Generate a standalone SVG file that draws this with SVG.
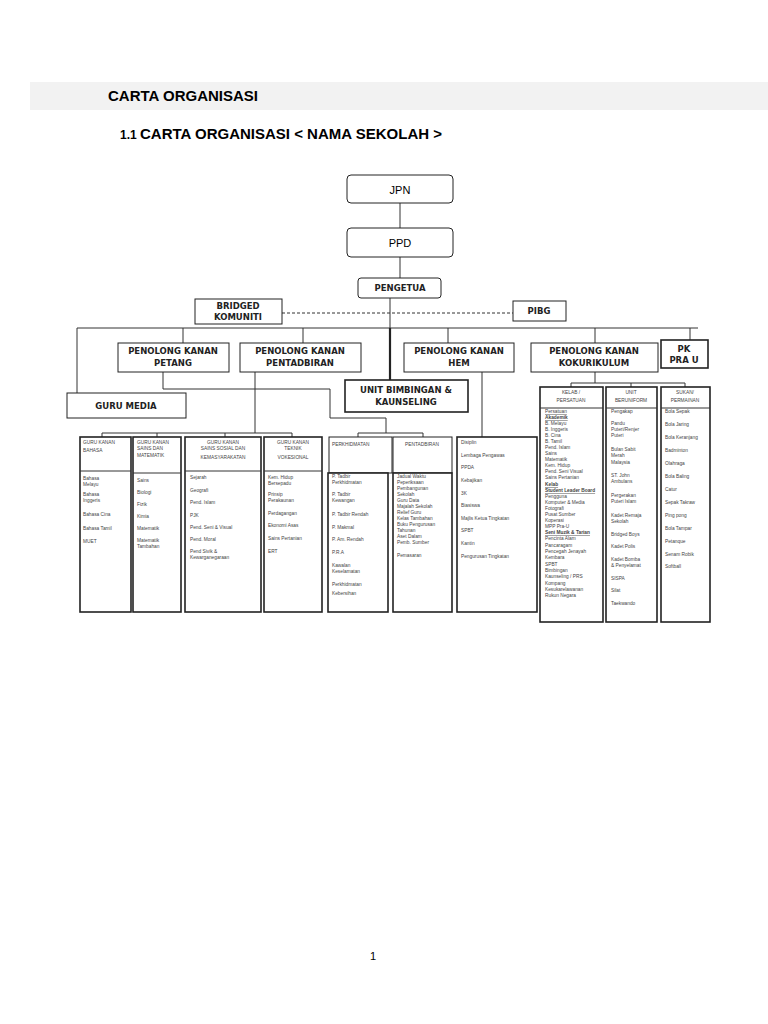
<svg xmlns="http://www.w3.org/2000/svg" width="768" height="1024" viewBox="0 0 768 1024">
<style>
.b{fill:#fff;stroke:#222;stroke-width:1}
.bt{fill:#fff;stroke:#222;stroke-width:1.6}
.l{fill:none;stroke:#333;stroke-width:1}
.h{font-family:"DejaVu Sans",sans-serif;font-size:8.5px;font-weight:bold;fill:#222;text-anchor:middle}
.s{font-family:"Liberation Sans",sans-serif;font-size:4.8px;fill:#444}
.sc{font-family:"Liberation Sans",sans-serif;font-size:4.8px;fill:#444;text-anchor:middle}
.u{text-decoration:underline;font-weight:bold}
</style>
<rect x="30" y="82" width="738" height="28" fill="#f2f2f2"/>
<text x="108" y="101" font-family="Liberation Sans,sans-serif" font-size="15" font-weight="bold">CARTA ORGANISASI</text>
<text x="120" y="139" font-family="Liberation Sans,sans-serif" font-size="15" font-weight="bold"><tspan font-size="12">1.1 </tspan> CARTA ORGANISASI &lt; NAMA SEKOLAH &gt;</text>
<g id="connectors">
<path class="l" d="M400 203V228M400 257V278M390 298V328M77 328H698M77 328V393M183 328V343M303 328V343M448 328V343M595 328V343M690 328V340"/>
<path d="M390 328V380" stroke="#222" stroke-width="2.2"/>
<path class="l" d="M282 313H513" stroke-dasharray="3,2"/>
<path class="l" d="M163 372V389H330V418H386V433M358 437V433H423V437M255 372V433M102 437V433H292V437M157 433V437M225 433V437M482 372V437M595 372V383M571 387V383H685V387M631 383V387"/>
</g>
<g id="jpn"><rect class="b" x="347" y="175" width="106" height="28" rx="4"/><text x="400" y="194" font-family="Liberation Sans,sans-serif" font-size="11" text-anchor="middle">JPN</text></g>
<g id="ppd"><rect class="b" x="347" y="228" width="106" height="29" rx="4"/><text x="400" y="247" font-family="Liberation Sans,sans-serif" font-size="11" text-anchor="middle">PPD</text></g>
<g id="pengetua"><rect class="b" x="358" y="278" width="83" height="20" rx="3"/><text class="h" x="400" y="291">PENGETUA</text></g>
<g id="bridged"><rect class="b" x="195" y="299" width="87" height="25"/><text class="h" x="238" y="309">BRIDGED</text><text class="h" x="238" y="320">KOMUNITI</text></g>
<g id="pibg"><rect class="b" x="513" y="301" width="53" height="20"/><text class="h" x="539" y="314">PIBG</text></g>
<g id="petang"><rect class="b" x="118" y="343" width="111" height="29"/><text class="h" x="173" y="354">PENOLONG KANAN</text><text class="h" x="173" y="366">PETANG</text></g>
<g id="pentadbiran"><rect class="b" x="240" y="343" width="121" height="29"/><text class="h" x="300" y="354">PENOLONG KANAN</text><text class="h" x="300" y="366">PENTADBIRAN</text></g>
<g id="hem"><rect class="b" x="404" y="343" width="110" height="29"/><text class="h" x="459" y="354">PENOLONG KANAN</text><text class="h" x="459" y="366">HEM</text></g>
<g id="koku"><rect class="b" x="531" y="343" width="127" height="29"/><text class="h" x="594" y="354">PENOLONG KANAN</text><text class="h" x="594" y="366">KOKURIKULUM</text></g>
<g id="prau"><rect class="bt" x="661" y="340" width="47" height="28"/><text class="h" x="684" y="352">PK</text><text class="h" x="684" y="363">PRA U</text></g>
<g id="gurumedia"><rect class="b" x="67" y="393" width="119" height="25"/><text class="h" x="126" y="409">GURU MEDIA</text></g>
<g id="ubk"><rect class="bt" x="345" y="380" width="123" height="32"/><text class="h" x="406" y="393">UNIT BIMBINGAN &amp;</text><text class="h" x="406" y="405">KAUNSELING</text></g>

<g id="bahasa"><rect class="bt" x="80" y="437" width="51" height="175"/><line class="l" x1="80" y1="471" x2="131" y2="471"/>
<text class="s" x="83" y="444">GURU KANAN</text><text class="s" x="83" y="452">BAHASA</text>
<text class="s" x="83" y="480">Bahasa</text><text class="s" x="83" y="486">Melayu</text><text class="s" x="83" y="496">Bahasa</text><text class="s" x="83" y="502">Inggeris</text><text class="s" x="83" y="516">Bahasa Cina</text><text class="s" x="83" y="530">Bahasa Tamil</text><text class="s" x="83" y="543">MUET</text></g>
<g id="sainsmat"><rect class="bt" x="133" y="437" width="48" height="175"/><line class="l" x1="133" y1="473" x2="181" y2="473"/>
<text class="s" x="137" y="444">GURU KANAN</text><text class="s" x="137" y="450">SAINS DAN</text><text class="s" x="137" y="457">MATEMATIK</text>
<text class="s" x="137" y="482">Sains</text><text class="s" x="137" y="494">Biologi</text><text class="s" x="137" y="506">Fizik</text><text class="s" x="137" y="518">Kimia</text><text class="s" x="137" y="530">Matematik</text><text class="s" x="137" y="542">Matematik</text><text class="s" x="137" y="548">Tambahan</text></g>
<g id="sosial"><rect class="bt" x="185" y="437" width="76" height="175"/><line class="l" x1="185" y1="471" x2="261" y2="471"/>
<text class="sc" x="223" y="444">GURU KANAN</text><text class="sc" x="223" y="450">SAINS SOSIAL DAN</text><text class="sc" x="223" y="459">KEMASYARAKATAN</text>
<text class="s" x="190" y="479">Sejarah</text><text class="s" x="190" y="492">Geografi</text><text class="s" x="190" y="504">Pend. Islam</text><text class="s" x="190" y="517">PJK</text><text class="s" x="190" y="529">Pend. Seni &amp; Visual</text><text class="s" x="190" y="541">Pend. Moral</text><text class="s" x="190" y="553">Pend Sivik &amp;</text><text class="s" x="190" y="559">Kewarganegaraan</text></g>
<g id="teknik"><rect class="bt" x="264" y="437" width="58" height="175"/><line class="l" x1="264" y1="471" x2="322" y2="471"/>
<text class="sc" x="293" y="444">GURU KANAN</text><text class="sc" x="293" y="450">TEKNIK</text><text class="sc" x="293" y="459">VOKESIONAL</text>
<text class="s" x="268" y="479">Kem. Hidup</text><text class="s" x="268" y="485">Bersepadu</text><text class="s" x="268" y="496">Prinsip</text><text class="s" x="268" y="502">Perakaunan</text><text class="s" x="268" y="515">Perdagangan</text><text class="s" x="268" y="527">Ekonomi Asas</text><text class="s" x="268" y="540">Sains Pertanian</text><text class="s" x="268" y="553">ERT</text></g>
<g id="perkhidmatan"><rect class="b" x="329" y="437" width="63" height="36"/><rect class="bt" x="328" y="473" width="60" height="139"/>
<text class="s" x="332" y="446">PERKHIDMATAN</text>
<text class="s" x="332" y="478">P. Tadbir</text><text class="s" x="332" y="484">Perkhidmatan</text><text class="s" x="332" y="496">P. Tadbir</text><text class="s" x="332" y="502">Kewangan</text><text class="s" x="332" y="516">P. Tadbir Rendah</text><text class="s" x="332" y="529">P. Makmal</text><text class="s" x="332" y="541">P. Am. Rendah</text><text class="s" x="332" y="554">P.R.A</text><text class="s" x="332" y="567">Kawalan</text><text class="s" x="332" y="573">Keselamatan</text><text class="s" x="332" y="586">Perkhidmatan</text><text class="s" x="332" y="595">Kebersihan</text></g>
<g id="pentadbiranlist"><rect class="b" x="393" y="437" width="59" height="36"/><rect class="bt" x="393" y="473" width="59" height="139"/>
<text class="sc" x="422" y="446">PENTADBIRAN</text>
<text class="s" x="397" y="478">Jadual Waktu</text><text class="s" x="397" y="484">Peperiksaan</text><text class="s" x="397" y="490">Pembangunan</text><text class="s" x="397" y="496">Sekolah</text><text class="s" x="397" y="502">Guru Data</text><text class="s" x="397" y="508">Majalah Sekolah</text><text class="s" x="397" y="514">Relief Guru</text><text class="s" x="397" y="520">Kelas Tambahan</text><text class="s" x="397" y="526">Buku Pengurusan</text><text class="s" x="397" y="532">Tahunan</text><text class="s" x="397" y="538">Aset Dalam</text><text class="s" x="397" y="544">Pemb. Sumber</text><text class="s" x="397" y="557">Pemasaran</text></g>
<g id="hemlist"><rect class="bt" x="457" y="437" width="80" height="175"/>
<text class="s" x="461" y="444">Disiplin</text><text class="s" x="461" y="457">Lembaga Pengawas</text><text class="s" x="461" y="469">PPDA</text><text class="s" x="461" y="482">Kebajikan</text><text class="s" x="461" y="495">3K</text><text class="s" x="461" y="507">Biasiswa</text><text class="s" x="461" y="520">Majlis Ketua Tingkatan</text><text class="s" x="461" y="532">SPBT</text><text class="s" x="461" y="545">Kantin</text><text class="s" x="461" y="558">Pengurusan Tingkatan</text></g>
<g id="kelab"><rect class="bt" x="540" y="387" width="63" height="235"/><line class="l" x1="540" y1="408" x2="603" y2="408"/>
<text class="sc" x="571" y="394">KELAB /</text><text class="sc" x="571" y="402">PERSATUAN</text>
<text class="s" x="545" y="413" text-decoration="underline">Persatuan</text><text class="s u" x="545" y="419">Akademik</text><text class="s" x="545" y="425">B. Melayu</text><text class="s" x="545" y="431">B. Inggeris</text><text class="s" x="545" y="437">B. Cina</text><text class="s" x="545" y="443">B. Tamil</text><text class="s" x="545" y="449">Pend. Islam</text><text class="s" x="545" y="455">Sains</text><text class="s" x="545" y="461">Matematik</text><text class="s" x="545" y="467">Kem. Hidup</text><text class="s" x="545" y="473">Pend. Seni Visual</text><text class="s" x="545" y="479">Sains Pertanian</text><text class="s u" x="545" y="486">Kelab</text><text class="s u" x="545" y="492">Student Leader Board</text><text class="s" x="545" y="498">Pengguna</text><text class="s" x="545" y="504">Komputer &amp; Media</text><text class="s" x="545" y="510">Fotografi</text><text class="s" x="545" y="516">Pusat Sumber</text><text class="s" x="545" y="522">Koperasi</text><text class="s" x="545" y="528">MPP Pra-U</text><text class="s u" x="545" y="534">Seni Muzik &amp; Tarian</text><text class="s" x="545" y="540">Pencinta Alam</text><text class="s" x="545" y="547">Pancaragam</text><text class="s" x="545" y="553">Pencegah Jenayah</text><text class="s" x="545" y="559">Kembara</text><text class="s" x="545" y="566">SPBT</text><text class="s" x="545" y="572">Bimbingan</text><text class="s" x="545" y="578">Kaunseling / PRS</text><text class="s" x="545" y="585">Kompang</text><text class="s" x="545" y="591">Kesukarelawanan</text><text class="s" x="545" y="597">Rukun Negara</text></g>
<g id="unit"><rect class="bt" x="606" y="387" width="51" height="235"/><line class="l" x1="606" y1="408" x2="657" y2="408"/>
<text class="sc" x="631" y="394">UNIT</text><text class="sc" x="631" y="402">BERUNIFORM</text>
<text class="s" x="611" y="413">Pengakap</text><text class="s" x="611" y="425">Pandu</text><text class="s" x="611" y="431">Puteri/Renjer</text><text class="s" x="611" y="437">Puteri</text><text class="s" x="611" y="451">Bulan Sabit</text><text class="s" x="611" y="457">Merah</text><text class="s" x="611" y="464">Malaysia</text><text class="s" x="611" y="477">ST. John</text><text class="s" x="611" y="483">Ambulans</text><text class="s" x="611" y="497">Pergerakan</text><text class="s" x="611" y="503">Puteri Islam</text><text class="s" x="611" y="517">Kadet Remaja</text><text class="s" x="611" y="523">Sekolah</text><text class="s" x="611" y="536">Bridged Boys</text><text class="s" x="611" y="548">Kadet Polis</text><text class="s" x="611" y="561">Kadet Bomba</text><text class="s" x="611" y="567">&amp; Penyelamat</text><text class="s" x="611" y="580">SISPA</text><text class="s" x="611" y="592">Silat</text><text class="s" x="611" y="605">Taekwando</text></g>
<g id="sukan"><rect class="bt" x="661" y="387" width="49" height="235"/><line class="l" x1="661" y1="408" x2="710" y2="408"/>
<text class="sc" x="685" y="394">SUKAN/</text><text class="sc" x="685" y="402">PERMAINAN</text>
<text class="s" x="665" y="413">Bola Sepak</text><text class="s" x="665" y="426">Bola Jaring</text><text class="s" x="665" y="439">Bola Keranjang</text><text class="s" x="665" y="452">Badminton</text><text class="s" x="665" y="465">Olahraga</text><text class="s" x="665" y="478">Bola Baling</text><text class="s" x="665" y="491">Catur</text><text class="s" x="665" y="504">Sepak Takraw</text><text class="s" x="665" y="517">Ping pong</text><text class="s" x="665" y="530">Bola Tampar</text><text class="s" x="665" y="543">Petanque</text><text class="s" x="665" y="556">Senam Robik</text><text class="s" x="665" y="568">Softball</text></g>
<text x="373" y="960" font-family="Liberation Sans,sans-serif" font-size="11" text-anchor="middle">1</text>
</svg>
